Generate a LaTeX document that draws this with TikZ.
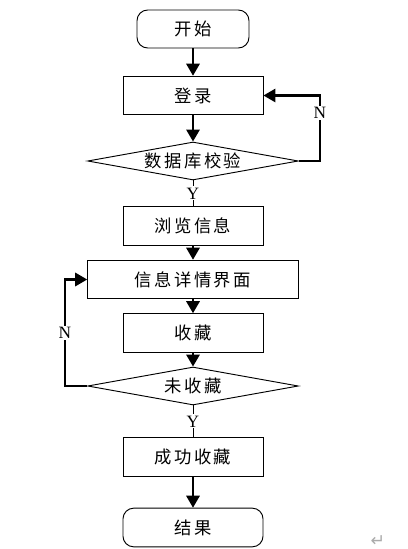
\documentclass[tikz,border=0pt]{standalone}
\usepackage{fontspec}
\usetikzlibrary{arrows.meta,shapes.geometric}
\setmainfont{Liberation Serif}
\newfontfamily\cjk[LetterSpace=14]{Noto Sans CJK SC}
\newfontfamily\markfont{DejaVu Sans}
\definecolor{Mark}{HTML}{ABABAB}

\begin{document}
\begin{tikzpicture}[x=0.75pt,y=-0.75pt,>={Triangle[length=9pt,width=10pt]},
    stepbox/.style={draw,line width=0.7pt,minimum width=105pt,minimum height=29pt,inner sep=0pt,font=\cjk\fontsize{13}{15}\selectfont},
    endbox/.style={stepbox,rounded corners=8pt},
    checkbox/.style={draw,line width=0.7pt,shape=diamond,aspect=5.5,inner sep=0pt,minimum width=158pt,minimum height=28.5pt,font=\cjk\fontsize{13}{15}\selectfont},
    flow/.style={->,line width=1.6pt},
    tag/.style={fill=white,inner sep=1pt,font=\fontsize{13}{14}\selectfont}]
    \useasboundingbox (0,0) rectangle (407,549);
    \node[endbox,minimum width=84pt,minimum height=28.5pt] (start) at (193,29) {开始};
    \node[stepbox] (login) at (193,95.5) {登录};
    \node[checkbox] (dbcheck) at (193,161) {数据库校验};
    \node[stepbox] (browse) at (193,226) {浏览信息};
    \node[stepbox,minimum width=158pt] (detail) at (193,279.5) {信息详情界面};
    \node[stepbox] (fav) at (193,333) {收藏};
    \node[checkbox] (favcheck) at (193,386) {未收藏};
    \node[stepbox] (done) at (193,457) {成功收藏};
    \node[endbox] (finish) at (193,527.5) {结果};
    \coordinate (nright) at (320,0);
    \coordinate (nleft) at (65,0);
    \draw[flow] (start) -- (login);
    \draw[flow] (login) -- (dbcheck);
    \draw[line width=0.6pt] (dbcheck.south) -- node[tag] {Y} (browse.north);
    \draw[flow] (browse) -- (detail);
    \draw[flow] (detail) -- (fav);
    \draw[flow] (fav) -- (favcheck);
    \draw[line width=0.6pt] (favcheck.south) -- node[tag] {Y} (done.north);
    \draw[flow] (done) -- (finish);
    \draw[flow] (dbcheck.east) -- (dbcheck.east -| nright) -- node[tag,pos=0.74] {N} (login.east -| nright) -- (login.east);
    \draw[flow] (favcheck.west) -- (favcheck.west -| nleft) -- node[tag] {N} (detail.west -| nleft) -- (detail.west);
    \node[text=Mark,font=\markfont\fontsize{13}{14}\selectfont] (para) at (378,541) {↵};
\end{tikzpicture}
\end{document}
